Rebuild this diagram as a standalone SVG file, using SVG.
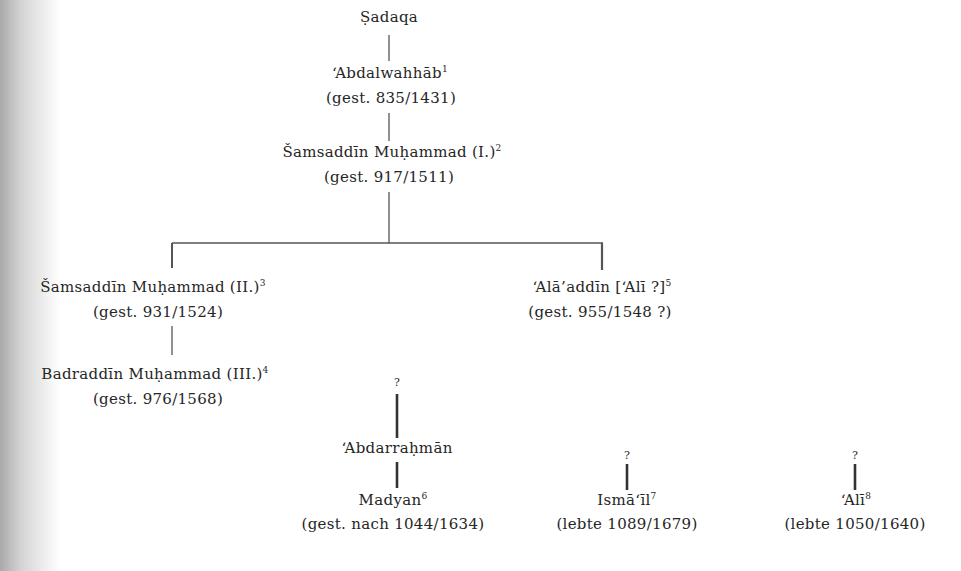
<svg xmlns="http://www.w3.org/2000/svg" width="961" height="571" viewBox="0 0 961 571">
<defs>
<linearGradient id="edge" x1="0" y1="0" x2="1" y2="0">
<stop offset="0" stop-color="#a9a9a9"/>
<stop offset="0.35" stop-color="#d4d4d4"/>
<stop offset="1" stop-color="#ffffff"/>
</linearGradient>
<style>
text{font-family:"DejaVu Serif","Liberation Serif",serif;font-size:15px;fill:#262626;text-anchor:middle;letter-spacing:0.3px}
.sup{font-size:9px}
.q{font-size:11px}
.thin{stroke:#555;stroke-width:1.3;fill:none}
.thick{stroke:#333;stroke-width:2.6;fill:none}
</style>
</defs>
<rect width="961" height="571" fill="#ffffff"/>
<rect width="60" height="571" fill="url(#edge)"/>
<g id="connectors">
<line class="thin" x1="389" y1="35" x2="389" y2="61"/>
<line class="thin" x1="389" y1="113" x2="389" y2="141"/>
<line class="thin" x1="389" y1="192" x2="389" y2="243"/>
<line class="thin" x1="172" y1="243" x2="603" y2="243" style="stroke-width:1.6"/>
<line class="thin" x1="172" y1="243" x2="172" y2="268" style="stroke-width:2"/>
<line class="thin" x1="602" y1="243" x2="602" y2="270" style="stroke-width:2.2"/>
<line class="thin" x1="172" y1="326" x2="172" y2="355"/>
<line class="thick" x1="397" y1="394" x2="397" y2="438"/>
<line class="thick" x1="397" y1="462" x2="397" y2="488"/>
<line class="thick" x1="627" y1="464" x2="627" y2="490"/>
<line class="thick" x1="855" y1="464" x2="855" y2="490"/>
</g>
<g id="sadaqa"><text x="389" y="22">Ṣadaqa</text></g>
<g id="abdalwahhab"><text x="390" y="78">‘Abdalwahhāb<tspan class="sup" dy="-6">1</tspan></text><text x="391" y="103">(gest. 835/1431)</text></g>
<g id="samsaddin1"><text x="392" y="157">Šamsaddīn Muḥammad (I.)<tspan class="sup" dy="-6">2</tspan></text><text x="389" y="182">(gest. 917/1511)</text></g>
<g id="samsaddin2"><text x="153" y="292">Šamsaddīn Muḥammad (II.)<tspan class="sup" dy="-6">3</tspan></text><text x="158" y="317">(gest. 931/1524)</text></g>
<g id="badraddin"><text x="155" y="379">Badraddīn Muḥammad (III.)<tspan class="sup" dy="-6">4</tspan></text><text x="158" y="404">(gest. 976/1568)</text></g>
<g id="alaaddin"><text x="602" y="292">‘Alā’addīn [‘Alī ?]<tspan class="sup" dy="-6">5</tspan></text><text x="600" y="317">(gest. 955/1548 ?)</text></g>
<g id="q1"><text class="q" x="397" y="386">?</text></g>
<g id="abdarrahman"><text x="397" y="453">‘Abdarraḥmān</text></g>
<g id="madyan"><text x="393" y="505">Madyan<tspan class="sup" dy="-6">6</tspan></text><text x="393" y="529">(gest. nach 1044/1634)</text></g>
<g id="q2"><text class="q" x="627" y="459">?</text></g>
<g id="ismail"><text x="627" y="505">Ismā‘īl<tspan class="sup" dy="-6">7</tspan></text><text x="627" y="529">(lebte 1089/1679)</text></g>
<g id="q3"><text class="q" x="855" y="459">?</text></g>
<g id="ali"><text x="856" y="505">‘Alī<tspan class="sup" dy="-6">8</tspan></text><text x="855" y="529">(lebte 1050/1640)</text></g>
</svg>
